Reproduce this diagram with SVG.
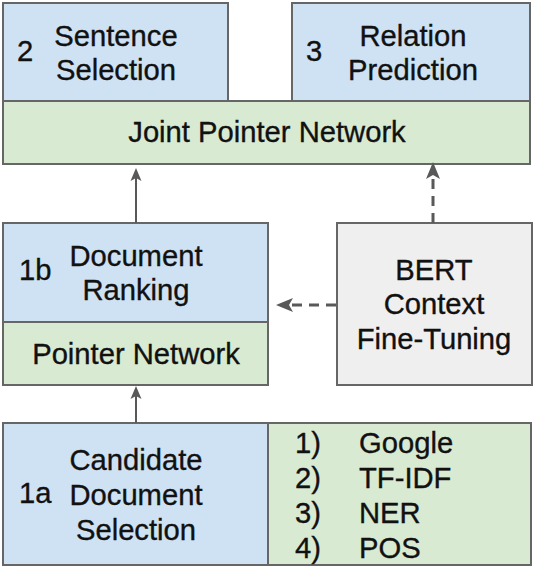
<svg xmlns="http://www.w3.org/2000/svg" width="535" height="568" viewBox="0 0 535 568">
<style>
text{font-family:"Liberation Sans",Arial,sans-serif;font-size:29.2px;fill:#111;stroke:#111;stroke-width:0.35}
.c{text-anchor:middle}
.b{fill:#cfe2f3;stroke:#666;stroke-width:2}
.g{fill:#d9ead3;stroke:#666;stroke-width:2}
.y{fill:#efefef;stroke:#666;stroke-width:2}
.ln{stroke:#595959;stroke-width:2;fill:none}
.ds{stroke:#595959;stroke-width:3;fill:none;stroke-dasharray:10 7}
.ah{fill:#595959}
</style>
<rect width="535" height="568" fill="#fff"/>
<g id="sentence-selection">
<rect class="b" x="3" y="3" width="225" height="98"/>
<text x="17" y="61">2</text>
<text class="c" x="116" y="46">Sentence</text>
<text class="c" x="116" y="80">Selection</text>
</g>
<g id="relation-prediction">
<rect class="b" x="292" y="3" width="238" height="98"/>
<text x="306" y="61">3</text>
<text class="c" x="413" y="46">Relation</text>
<text class="c" x="413" y="80">Prediction</text>
</g>
<g id="joint-pointer-network">
<rect class="g" x="3" y="101" width="527" height="63"/>
<text class="c" x="267" y="142">Joint Pointer Network</text>
</g>
<g id="document-ranking">
<rect class="b" x="3" y="223" width="265" height="99"/>
<text x="19" y="280">1b</text>
<text class="c" x="136" y="266">Document</text>
<text class="c" x="136" y="300">Ranking</text>
</g>
<g id="pointer-network">
<rect class="g" x="3" y="322" width="265" height="63"/>
<text class="c" x="136" y="364">Pointer Network</text>
</g>
<g id="bert">
<rect class="y" x="337" y="223" width="195" height="162"/>
<text class="c" x="434" y="280">BERT</text>
<text class="c" x="434" y="314">Context</text>
<text class="c" x="434" y="349">Fine-Tuning</text>
</g>
<g id="candidate-selection">
<rect class="b" x="3" y="423" width="265" height="142"/>
<text x="19" y="503">1a</text>
<text class="c" x="136" y="470">Candidate</text>
<text class="c" x="136" y="505">Document</text>
<text class="c" x="136" y="540">Selection</text>
</g>
<g id="methods">
<rect class="g" x="268" y="423" width="263" height="142"/>
<text x="295" y="453">1)</text><text x="359" y="453">Google</text>
<text x="295" y="488">2)</text><text x="359" y="488">TF-IDF</text>
<text x="295" y="523">3)</text><text x="359" y="523">NER</text>
<text x="295" y="558">4)</text><text x="359" y="558">POS</text>
</g>
<g id="connectors">
<line class="ln" x1="136" y1="223" x2="136" y2="176"/>
<path class="ah" d="M136,168 L141.5,181 L136,178 L130.5,181 Z"/>
<line class="ln" x1="136" y1="423" x2="136" y2="394"/>
<path class="ah" d="M136,386 L141.5,399 L136,396 L130.5,399 Z"/>
<line class="ds" x1="433" y1="223" x2="433" y2="175"/>
<path class="ah" d="M433,162 L440,179 L433,175 L426,179 Z"/>
<line class="ds" x1="336" y1="305" x2="290" y2="305"/>
<path class="ah" d="M276,305 L293,298 L289,305 L293,312 Z"/>
</g>
</svg>
